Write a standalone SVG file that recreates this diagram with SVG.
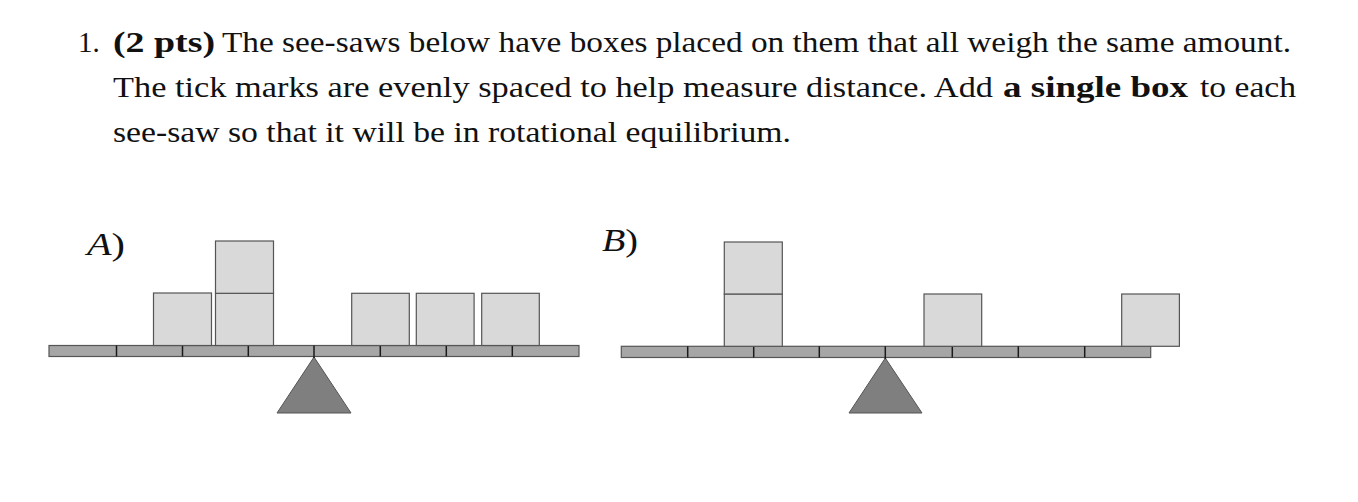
<svg xmlns="http://www.w3.org/2000/svg" width="1358" height="502" viewBox="0 0 1358 502">
<style>
.t{font-family:"Liberation Serif","DejaVu Serif",serif;font-size:29px;fill:#111}
.b{font-weight:bold}
.lbl{font-family:"Liberation Serif","DejaVu Serif",serif;font-size:32px;fill:#111}
.box{fill:#d9d9d9;stroke:#555;stroke-width:1.2}
.beam{fill:#a6a6a6;stroke:#555;stroke-width:1.2}
.tick{stroke:#1a1a1a;stroke-width:1.5}
.piv{fill:#7f7f7f;stroke:#555;stroke-width:1}
</style>
<rect width="1358" height="502" fill="#fff"/>
<g id="question">
<text class="t" y="52"><tspan x="78">1.</tspan><tspan class="b" x="113" textLength="102" lengthAdjust="spacingAndGlyphs">(2 pts)</tspan><tspan x="222" textLength="1069" lengthAdjust="spacingAndGlyphs">The see-saws below have boxes placed on them that all weigh the same amount.</tspan></text>
<text class="t" y="97"><tspan x="113" textLength="880" lengthAdjust="spacingAndGlyphs">The tick marks are evenly spaced to help measure distance. Add</tspan><tspan class="b" x="1003" textLength="185" lengthAdjust="spacingAndGlyphs">a single box</tspan><tspan x="1200" textLength="96" lengthAdjust="spacingAndGlyphs">to each</tspan></text>
<text class="t" y="142"><tspan x="113" textLength="678" lengthAdjust="spacingAndGlyphs">see-saw so that it will be in rotational equilibrium.</tspan></text>
</g>
<g id="seesawA">
<text class="lbl" x="87" y="255" textLength="38" lengthAdjust="spacingAndGlyphs"><tspan font-style="italic">A</tspan>)</text>
<polygon class="piv" points="314,357 351,413 277,413"/>
<rect class="beam" x="49" y="345.5" width="530" height="11"/>
<g class="tick">
<line x1="116.5" y1="345.5" x2="116.5" y2="356.5"/>
<line x1="182.5" y1="345.5" x2="182.5" y2="356.5"/>
<line x1="248.3" y1="345.5" x2="248.3" y2="356.5"/>
<line x1="314" y1="345.5" x2="314" y2="358"/>
<line x1="380.3" y1="345.5" x2="380.3" y2="356.5"/>
<line x1="446.3" y1="345.5" x2="446.3" y2="356.5"/>
<line x1="512.3" y1="345.5" x2="512.3" y2="356.5"/>
</g>
<rect class="box" x="153.5" y="293" width="58" height="52.5"/>
<rect class="box" x="215.5" y="293.3" width="58" height="52.2"/>
<rect class="box" x="215.5" y="241" width="58" height="52.3"/>
<rect class="box" x="351.7" y="293.3" width="57.6" height="52.2"/>
<rect class="box" x="416.3" y="293.3" width="57.8" height="52.2"/>
<rect class="box" x="481.7" y="293.3" width="57.6" height="52.2"/>
</g>
<g id="seesawB">
<text class="lbl" x="602" y="251" textLength="36" lengthAdjust="spacingAndGlyphs"><tspan font-style="italic">B</tspan>)</text>
<polygon class="piv" points="885.3,358 922,413 849,413"/>
<rect class="beam" x="621.3" y="346.3" width="529.4" height="11.2"/>
<g class="tick">
<line x1="687.7" y1="346.3" x2="687.7" y2="357.5"/>
<line x1="753.7" y1="346.3" x2="753.7" y2="357.5"/>
<line x1="819.3" y1="346.3" x2="819.3" y2="357.5"/>
<line x1="885.3" y1="346.3" x2="885.3" y2="359"/>
<line x1="952.3" y1="346.3" x2="952.3" y2="357.5"/>
<line x1="1018.3" y1="346.3" x2="1018.3" y2="357.5"/>
<line x1="1084.7" y1="346.3" x2="1084.7" y2="357.5"/>
</g>
<rect class="box" x="724.3" y="294" width="58" height="52.3"/>
<rect class="box" x="724.3" y="242" width="58" height="52"/>
<rect class="box" x="924" y="294" width="57.7" height="52.3"/>
<rect class="box" x="1121.7" y="294" width="57.7" height="52.3"/>
</g>
</svg>
